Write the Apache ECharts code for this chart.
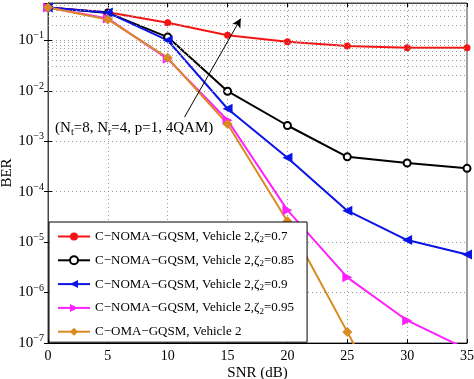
<!DOCTYPE html>
<html>
<head>
<meta charset="utf-8">
<script src="https://cdn.jsdelivr.net/npm/echarts@6/dist/echarts.min.js"></script>
<style>html,body{margin:0;padding:0;background:#fff}#c{width:474px;height:379px}</style>
</head>
<body>
<div id="c"></div>
<script>
var snr = [0, 5, 10, 15, 20, 25, 30, 35];
var berZeta070 = [0.45, 0.36, 0.223, 0.126, 0.094, 0.077, 0.071, 0.071];
var berZeta085 = [0.45, 0.35, 0.116, 0.0098, 0.00205, 4.9e-4, 3.7e-4, 2.9e-4];
var berZeta090 = [0.45, 0.355, 0.10, 0.0044, 4.7e-4, 4.2e-5, 1.1e-5, 5.7e-6];
var berZeta095 = [0.45, 0.27, 0.043, 0.0026, 4.3e-5, 2.0e-6, 2.8e-7, 7.5e-8];
var berOMA = [0.45, 0.26, 0.045, 0.0022, 2.6e-5, 1.66e-7, 1.0e-9];
var seriesNames = [
  'C−NOMA−GQSM, Vehicle 2,ζ2=0.7',
  'C−NOMA−GQSM, Vehicle 2,ζ2=0.85',
  'C−NOMA−GQSM, Vehicle 2,ζ2=0.9',
  'C−NOMA−GQSM, Vehicle 2,ζ2=0.95',
  'C−OMA−GQSM, Vehicle 2'
];
var xTicks = [0, 5, 10, 15, 20, 25, 30, 35];
var yDecades = [-7, -6, -5, -4, -3, -2, -1];
var annotationText = ['(N', 't', '=8, N', 'r', '=4, p=1, 4QAM)'];

var FONT = 'Liberation Serif';
function pairs(v) { return v.map(function (y, i) { return [snr[i], y]; }); }

var minorLines = [];
for (var d = -7; d <= 0; d++) {
  for (var k = 2; k <= 9; k++) {
    var v = k * Math.pow(10, d);
    if (v < 0.55) minorLines.push({ yAxis: v });
  }
}

var chart = echarts.init(document.getElementById('c'), null, { renderer: 'canvas' });
var supRich = {
  b: { fontFamily: FONT, fontSize: 15, color: '#000' },
  e: { fontFamily: FONT, fontSize: 10, color: '#000', padding: [0, 0, 9, 0] }
};
function yFmt(val) {
  var e = Math.round(Math.log10(val));
  if (Math.abs(Math.log10(val) - e) > 1e-6) return '';
  if (yDecades.indexOf(e) < 0) return '';
  return '{b|10}{e|−' + (-e) + '}';
}
var tickCommon = { show: true, inside: true, length: 4, lineStyle: { color: '#000' } };
var dotted = { show: true, lineStyle: { color: '#9a9a9a', type: [1, 3], width: 1 } };

function mkSeries(name, data, color, symbol, size, rot, extra) {
  var s = {
    name: name, type: 'line', data: pairs(data),
    symbol: symbol, symbolSize: size, symbolRotate: rot,
    lineStyle: { color: color, width: 2, type: 'solid' },
    itemStyle: { color: color },
    emphasis: { disabled: true },
    animation: false, z: 3
  };
  if (extra) for (var key in extra) s[key] = extra[key];
  return s;
}

var option = {
  animation: false,
  backgroundColor: '#fff',
  grid: { left: 48, right: 7, top: 3, bottom: 36, show: true, borderColor: '#444', borderWidth: 1, outerBoundsMode: 'none', containLabel: false },
  xAxis: [{
    type: 'value', min: 0, max: 35, interval: 5,
    name: 'SNR (dB)', nameLocation: 'middle', nameGap: 23, nameMoveOverlap: false,
    nameTextStyle: { fontFamily: FONT, fontSize: 15, color: '#000' },
    axisLine: { show: true, lineStyle: { color: '#000' } },
    axisTick: tickCommon,
    axisLabel: { fontFamily: FONT, fontSize: 14, color: '#000', margin: 6 },
    splitLine: dotted
  }, {
    type: 'value', min: 0, max: 35, interval: 5, position: 'top',
    axisLine: { show: true, lineStyle: { color: '#444' } },
    axisTick: tickCommon, axisLabel: { show: false }, splitLine: { show: false }
  }],
  yAxis: [{
    type: 'log', logBase: 10, min: 1e-7, max: 0.55, splitNumber: 7,
    name: 'BER', nameLocation: 'middle', nameGap: 33, nameMoveOverlap: false,
    nameTextStyle: { fontFamily: FONT, fontSize: 15, color: '#000' },
    axisLine: { show: true, lineStyle: { color: '#000' } },
    axisTick: tickCommon,
    axisLabel: { formatter: yFmt, rich: supRich, fontFamily: FONT, fontSize: 15, margin: 4, showMaxLabel: false },
    splitLine: dotted
  }, {
    type: 'log', logBase: 10, min: 1e-7, max: 0.55, splitNumber: 7, position: 'right',
    axisLine: { show: true, lineStyle: { color: '#444' } },
    axisTick: tickCommon, axisLabel: { show: false }, splitLine: { show: false }
  }],
  legend: {
    orient: 'vertical', left: 49, top: 222,
    data: seriesNames,
    itemWidth: 32, itemHeight: 10, itemGap: 9.3,
    padding: [8, 13, 4, 8],
    backgroundColor: '#fff', borderColor: '#000', borderWidth: 1,
    selectedMode: false,
    formatter: function (name) {
      var p = name.split('ζ2');
      if (p.length === 1) return '{t|' + name + '}';
      return '{t|' + p[0] + 'ζ}{s|2}{t|' + p[1] + '}';
    },
    textStyle: {
      fontFamily: FONT, fontSize: 13, color: '#000',
      rich: {
        t: { fontFamily: FONT, fontSize: 13, color: '#000' },
        s: { fontFamily: FONT, fontSize: 9, color: '#000', padding: [7, 0, 0, 0] }
      }
    }
  },
  series: [
    {
      name: 'helper', type: 'line', data: [], silent: true, animation: false, z: 1,
      markLine: {
        silent: true, symbol: ['none', 'none'], animation: false,
        label: { show: false },
        lineStyle: { color: '#9a9a9a', type: [1, 3], width: 1 },
        data: minorLines
      }
    },
    {
      name: 'annot', type: 'line', data: [], silent: true, animation: false, z: 5,
      markLine: {
        silent: true, symbol: ['none', 'arrow'], symbolSize: [7, 9], animation: false,
        label: { show: false },
        lineStyle: { color: '#000', type: 'solid', width: 1 },
        data: [[{ coord: [11.4, 0.003] }, { coord: [16.1, 0.27] }]]
      },
      markPoint: {
        silent: true, animation: false, symbol: 'circle', symbolSize: 0,
        data: [{ coord: [7.2, 0.0018] }],
        label: {
          show: true, position: 'inside',
          formatter: '{a|' + annotationText[0] + '}{s|' + annotationText[1] + '}{a|' + annotationText[2] + '}{s|' + annotationText[3] + '}{a|' + annotationText[4] + '}',
          rich: {
            a: { fontFamily: FONT, fontSize: 15, color: '#000' },
            s: { fontFamily: FONT, fontSize: 10, color: '#000', padding: [8, 0, 0, 0] }
          }
        }
      }
    },
    mkSeries(seriesNames[0], berZeta070, '#f51414', 'circle', 7, 0),
    mkSeries(seriesNames[1], berZeta085, '#000000', 'emptyCircle', 7, 0, { itemStyle: { color: '#000', borderWidth: 1.6 } }),
    mkSeries(seriesNames[2], berZeta090, '#0a14e6', 'triangle', 10, 90),
    mkSeries(seriesNames[3], berZeta095, '#ff20ff', 'triangle', 10, -90),
    mkSeries(seriesNames[4], berOMA, '#d98a20', 'diamond', 10, 0)
  ]
};
chart.setOption(option);
</script>
</body>
</html>
